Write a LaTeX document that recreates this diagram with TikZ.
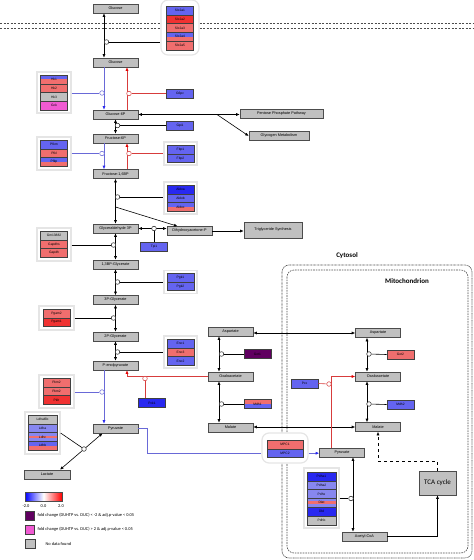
\documentclass[tikz,border=0pt]{standalone}
\usepackage{fontspec}
\setmainfont{Liberation Sans}
\newfontfamily\calib{Carlito}
\usetikzlibrary{arrows.meta,positioning}
\definecolor{cB}{RGB}{100,100,240}
\definecolor{cD}{RGB}{40,40,240}
\definecolor{cL}{RGB}{135,135,240}
\definecolor{cS}{RGB}{240,110,110}
\definecolor{cR}{RGB}{240,50,50}
\definecolor{cP}{RGB}{240,90,210}
\definecolor{cU}{RGB}{96,0,96}
\definecolor{cN}{RGB}{192,192,192}
\definecolor{lblue}{RGB}{105,105,215}
\definecolor{lred}{RGB}{215,60,60}
\tikzset{metab/.style={draw=black!70,fill=cN,minimum width=45pt,minimum height=9pt,inner sep=0pt,
		font=\fontsize{3.8}{4}\selectfont},
	gene/.style={draw=black!75,minimum width=27pt,minimum height=8.8pt,inner sep=0pt,
		font=\fontsize{3.3}{3.6}\selectfont},
	grp/.style={draw=black!10,line width=1.2pt,fill=white,inner sep=0pt},
	octo/.style={grp,rounded corners=7pt},
	split/.style 2 args={fill=#2,path picture={\fill[#1] (path picture bounding box.north west)
			rectangle (path picture bounding box.east);}},
	band/.style 2 args={fill=#1,path picture={\fill[#2] ([yshift=-3pt]path picture bounding box.north west)
			rectangle ([yshift=3pt]path picture bounding box.south east);}},
	gB/.style={fill=cB},gD/.style={fill=cD},gL/.style={fill=cL},gS/.style={fill=cS},
	gR/.style={fill=cR},gP/.style={fill=cP},gU/.style={fill=cU},gN/.style={fill=cN},
	gBS/.style={split={cB}{cS}},gSB/.style={split={cS}{cB}},gLS/.style={band={cL}{cS}},
	anc/.style={circle,draw=black!85,fill=white,minimum size=4.6pt,inner sep=0pt,line width=0.5pt},
	banc/.style={anc,draw=lblue},
	ranc/.style={anc,draw=lred},
	bln/.style={draw=lblue},
	rln/.style={draw=lred},
	bar/.style={-{Latex[length=3.5pt,width=3pt,color=cD]}},
	rar/.style={-{Latex[length=3.5pt,width=3pt,color=red!90!black]}},
	memb/.style={draw=black!70,line width=0.5pt,dash pattern=on 2pt off 1.5pt},
	cyto/.style={draw=black!70,line width=0.6pt,dash pattern=on 0.8pt off 0.6pt,rounded corners=7pt},
	mito/.style={draw=black!70,line width=0.6pt,dash pattern=on 1.6pt off 1pt,rounded corners=7pt},
	comp/.style={font=\calib\bfseries\fontsize{7}{8}\selectfont,inner sep=0pt},
	legtext/.style={font=\calib\fontsize{4.4}{5}\selectfont,inner sep=0pt,anchor=west}}

\begin{document}
\begin{tikzpicture}
	[x=1pt,y=-1pt,>={Latex[length=3.5pt,width=3pt]},line width=0.6pt]
	\useasboundingbox (0,0) rectangle (474,560);

	\draw[cyto] (282,265) rectangle (472,558);
	\draw[mito] (287,270) rectangle (468,553);
	\node[comp] (cytolbl) at (347,256) {Cytosol};
	\node[comp] (mitolbl) at (407,281) {Mitochondrion};
	\draw[memb] (0,23) -- (474,23);
	\draw[memb] (0,28) -- (474,28);

	\node[octo,minimum width=38pt,minimum height=55pt] (slcbox) at (180,27.5) {};
	\node[grp,minimum width=34pt,minimum height=41pt] (hkbox) at (54,92.5) {};
	\node[grp,minimum width=34pt,minimum height=33pt] (pfkbox) at (54,153.5) {};
	\node[grp,minimum width=33pt,minimum height=23pt] (fbpbox) at (180.5,153.5) {};
	\node[grp,minimum width=33pt,minimum height=32pt] (aldobox) at (180.5,198) {};
	\node[grp,minimum width=34pt,minimum height=33pt] (gapdhbox) at (54,244.5) {};
	\node[grp,minimum width=33pt,minimum height=23pt] (pgkbox) at (180.5,282) {};
	\node[grp,minimum width=35pt,minimum height=24pt] (pgambox) at (56.5,318) {};
	\node[grp,minimum width=33pt,minimum height=32pt] (enobox) at (180.5,352) {};
	\node[grp,minimum width=35pt,minimum height=33pt] (pkmbox) at (56.5,391.5) {};
	\node[grp,minimum width=35pt,minimum height=42pt] (ldhbox) at (42.5,433) {};
	\node[octo,minimum width=46pt,minimum height=30pt] (mpcbox) at (285,448) {};
	\node[grp,minimum width=35pt,minimum height=60pt] (pdhbox) at (321.5,498) {};

	\foreach \g/\c [count=\i] in {Slc2a1/gB,Slc2a2/gR,Slc2a3/gS,Slc2a4/gBS,Slc2a5/gS}
		\node[gene,\c] (slc\i) at (180,{1.6+8.8*\i}) {\g};
	\foreach \g/\c [count=\i] in {Hk1/gBS,Hk2/gS,Hk3/gN,Gck/gP}
		\node[gene,\c] (hk\i) at (54,{70.6+8.8*\i}) {\g};
	\foreach \g/\c [count=\i] in {Pfkm/gB,Pfkl/gS,Pfkp/gBS}
		\node[gene,\c] (pfk\i) at (54,{135.6+8.8*\i}) {\g};
	\foreach \g/\c [count=\i] in {Fbp1/gB,Fbp2/gB}
		\node[gene,\c] (fbp\i) at (180.5,{140.6+8.8*\i}) {\g};
	\foreach \g/\c [count=\i] in {Aldoa/gD,Aldob/gB,Aldoc/gBS}
		\node[gene,\c] (aldo\i) at (180.5,{180.6+8.8*\i}) {\g};
	\foreach \g/\c [count=\i] in {Gm13882/gN,Gapdhs/gS,Gapdh/gS}
		\node[gene,\c] (gapdh\i) at (54,{226.6+8.8*\i}) {\g};
	\foreach \g/\c [count=\i] in {Pgk1/gB,Pgk2/gB}
		\node[gene,\c] (pgk\i) at (180.5,{268.6+8.8*\i}) {\g};
	\foreach \g/\c [count=\i] in {Pgam2/gS,Pgam1/gR}
		\node[gene,\c] (pgam\i) at (56.5,{304.6+8.8*\i}) {\g};
	\foreach \g/\c [count=\i] in {Eno1/gB,Eno3/gS,Eno2/gB}
		\node[gene,\c] (eno\i) at (180.5,{334.6+8.8*\i}) {\g};
	\foreach \g/\c [count=\i] in {Pkm2/gS,Pkm2/gS,Pklr/gR}
		\node[gene,\c] (pkm\i) at (56.5,{373.6+8.8*\i}) {\g};
	\foreach \g/\c [count=\i] in {Ldhal6b/gN,Ldha/gL,Ldhc/gLS,Ldhb/gBS}
		\node[gene,\c,minimum width=29pt] (ldh\i) at (42.5,{410.6+8.8*\i}) {\g};
	\foreach \g/\c [count=\i] in {MPC1/gS,MPC2/gB}
		\node[gene,\c,minimum width=36pt] (mpc\i) at (285,{435.6+8.8*\i}) {\g};
	\foreach \g/\c [count=\i] in {Pdha1/gD,Pdha2/gL,Pdhx/gL,Dlat/gLS,Dld/gD,Pdhb/gN}
		\node[gene,\c,minimum width=29pt] (pdh\i) at (321.5,{467.6+8.8*\i}) {\g};
	\node[gene,gB] (g6pc) at (180,93.5) {G6pc};
	\node[gene,gB] (gpi1) at (180,125.5) {Gpi1};
	\node[gene,gB] (tpi1) at (154,246.5) {Tpi1};
	\node[gene,gD] (pck1) at (152,403) {Pck1};
	\node[gene,gU] (got1) at (257.5,354) {Got1};
	\node[gene,gSB] (mdh1) at (257.5,404) {Mdh1};
	\node[gene,gB] (pcx) at (304.5,383.5) {Pcx};
	\node[gene,gS] (got2) at (400.5,354.5) {Got2};
	\node[gene,gB] (mdh2) at (400.5,404.5) {Mdh2};

	\node[metab] (glc0) at (115.5,8.5) {Glucose};
	\node[metab] (glc) at (115.5,62.5) {Glucose};
	\node[metab] (g6p) at (115.5,114.5) {Glucose-6P};
	\node[metab] (f6p) at (115.5,138.5) {Fructose-6P};
	\node[metab] (fbp) at (115.5,174) {Fructose-1,6BP};
	\node[metab] (gap) at (115.5,228.5) {Glyceraldehyde 3P};
	\node[metab] (dhap) at (189.5,231) {Dihydroxyacetone-P};
	\node[metab] (bpg) at (115.5,264.5) {1,3BP-Glycerate};
	\node[metab] (pg3) at (115.5,300) {3P-Glycerate};
	\node[metab] (pg2) at (115.5,336.5) {2P-Glycerate};
	\node[metab] (pep) at (115.5,365.5) {P-enolpyruvate};
	\node[metab] (pyr) at (115.5,428.5) {Pyruvate};
	\node[metab,minimum width=46pt] (lac) at (47,474.5) {Lactate};
	\node[metab] (asp) at (230.5,331.5) {Aspartate};
	\node[metab] (oaa) at (230.5,376.5) {Oxaloacetate};
	\node[metab] (mal) at (230.5,427.5) {Malate};
	\node[metab] (aspm) at (378,333) {Aspartate};
	\node[metab] (oaam) at (378,376.5) {Oxaloacetate};
	\node[metab] (malm) at (378,427) {Malate};
	\node[metab] (pyrm) at (342,452.5) {Pyruvate};
	\node[metab] (acoa) at (364.5,536.5) {Acetyl-CoA};
	\node[metab,minimum width=83pt] (ppp) at (281.5,113.5) {Pentose Phosphate Pathway};
	\node[metab,minimum width=60pt] (glyco) at (279,136) {Glycogen Metabolism};
	\node[metab,minimum width=58pt,minimum height=16pt] (tg) at (273,230) {Triglyceride Synthesis};
	\node[metab,minimum width=37pt,minimum height=24pt,font=\calib\fontsize{7}{8}\selectfont] (tca) at (437.5,483) {TCA cycle};

	\draw[<->] ([xshift=-11.5pt]glc0.south) -- ([xshift=-11.5pt]glc.north);
	\node[anc] (a1) at (106.5,42) {};
	\draw (a1) -- (a1 -| slcbox.west);
	\draw[bln,bar] ([xshift=-11.5pt]glc.south) -- ([xshift=-11.5pt]g6p.north);
	\node[banc] (a2) at (102,93) {};
	\draw[bln] (hkbox.east |- a2) -- (a2);
	\draw[rln,rar] ([xshift=11.5pt]g6p.north) -- ([xshift=11.5pt]glc.south);
	\node[ranc] (a3) at (129,93.5) {};
	\draw[rln] (a3) -- (g6pc.west);
	\draw[<->] (g6p.east) -- (g6p.east -| ppp.west);
	\coordinate (br2) at (217,114.5);
	\draw[->] (br2) -- (glyco.west);
	\draw[<->] (g6p) -- (f6p);
	\node[anc] (a4) at (117.5,125.5) {};
	\draw (a4) -- (gpi1.west);
	\draw[bln,bar] ([xshift=-11.5pt]f6p.south) -- ([xshift=-11.5pt]fbp.north);
	\node[banc] (a5) at (102,153.5) {};
	\draw[bln] (pfkbox.east |- a5) -- (a5);
	\draw[rln,rar] ([xshift=11.5pt]fbp.north) -- ([xshift=11.5pt]f6p.south);
	\node[ranc] (a6) at (129,153.5) {};
	\draw[rln] (a6) -- (a6 -| fbpbox.west);
	\draw[<->] (fbp) -- (gap);
	\node[anc] (a7) at (117.5,197) {};
	\draw (a7) -- (a7 -| aldobox.west);
	\coordinate (br1) at (115.5,207);
	\draw[->] (br1) -- ([xshift=-12pt]dhap.north);
	\draw[<->] (gap.east) -- (gap.east -| dhap.west);
	\node[anc] (a9) at (154,228.5) {};
	\draw (a9) -- (tpi1.north);
	\draw[->] (dhap.east) -- (dhap.east -| tg.west);
	\draw[<->] (gap) -- (bpg);
	\node[anc] (a11) at (113.5,245) {};
	\draw (gapdhbox.east |- a11) -- (a11);
	\draw[<->] (bpg) -- (pg3);
	\node[anc] (a12) at (117.5,282) {};
	\draw (a12) -- (a12 -| pgkbox.west);
	\draw[<->] (pg3) -- (pg2);
	\node[anc] (a13) at (113.5,318) {};
	\draw (pgambox.east |- a13) -- (a13);
	\draw[<->] (pg2) -- (pep);
	\node[anc] (a14) at (117.5,352) {};
	\draw (a14) -- (a14 -| enobox.west);
	\draw[bln,bar] ([xshift=-11.5pt]pep.south) -- ([xshift=-11.5pt]pyr.north);
	\node[banc] (a15) at (102,392) {};
	\draw[bln] (pkmbox.east |- a15) -- (a15);
	\draw[rln,rar] (oaa.west) -| ([xshift=11.5pt]pep.south);
	\node[ranc] (a16) at (145,378.5) {};
	\draw[rln] (a16) -- (a16 |- pck1.north);
	\draw[<->] ([xshift=-13pt]pyr.south) -- ([xshift=13pt]lac.north);
	\node[anc] (a17) at (84,449) {};
	\draw (ldhbox.east) -- (a17);
	\draw[bln] (pyr.east) -- ++(9,0) |- (mpcbox.west |- mpc2);
	\draw[bln,bar] (mpcbox.east |- mpc2) -- (pyrm.west |- mpc2);

	\draw[<->] (aspm.west) -- (aspm.west -| asp.east);
	\draw[<->] (malm.west) -- (malm.west -| mal.east);
	\draw[<->] ([xshift=-11.5pt]asp.south) -- ([xshift=-11.5pt]oaa.north);
	\node[anc] (a20) at (221.5,354) {};
	\draw (a20) -- (got1.west);
	\draw[<->] ([xshift=-11.5pt]oaa.south) -- ([xshift=-11.5pt]mal.north);
	\node[anc] (a21) at (221.5,404) {};
	\draw (a21) -- (mdh1.west);
	\draw[<->] ([xshift=-11pt]aspm.south) -- ([xshift=-11pt]oaam.north);
	\node[anc] (a23) at (369,354) {};
	\draw (a23) -- (got2.west);
	\draw[<->] ([xshift=-11pt]oaam.south) -- ([xshift=-11pt]malm.north);
	\node[anc] (a24) at (369,404) {};
	\draw (a24) -- (mdh2.west);
	\draw[rln,rar] ([xshift=-11pt]pyrm.north) |- (oaam.west);
	\node[ranc] (a25) at (329,384) {};
	\draw[rln] (pcx.east) -- (a25);
	\draw[<->] ([xshift=11pt]pyrm.south) -- ([xshift=11pt]pyrm.south |- acoa.north);
	\node[anc] (a26) at (351,498.5) {};
	\draw (pdhbox.east |- a26) -- (a26);
	\draw[->] (acoa.east) -| (tca.south);
	\draw[dashed,->] (tca.north) -- ++(0,-9) -| (malm.south);

	\node[draw=black!70,minimum width=37pt,minimum height=9pt,inner sep=0pt,
		left color=blue,right color=red,middle color=white] (lgbar) at (43.5,496.5) {};
	\node[legtext,anchor=center] (lgmin) at (26,506) {-2.0};
	\node[legtext,anchor=center] (lgmid) at (43.5,506) {0.0};
	\node[legtext,anchor=center] (lgmax) at (61,506) {2.0};
	\node[gene,fill=cU,minimum width=9pt,minimum height=9pt] (lg1) at (29.5,515.5) {};
	\node[legtext,right=3pt of lg1] (lgt1) {fold change (DUHTP vs. DUC) < -2 \& adj.p-value < 0.05};
	\node[gene,fill=cP,minimum width=9pt,minimum height=9pt] (lg2) at (29.5,529.5) {};
	\node[legtext,right=3pt of lg2] (lgt2) {fold change (DUHTP vs. DUC) > 2 \& adj.p-value < 0.05};
	\node[gene,fill=cN,minimum width=10pt,minimum height=9pt] (lg3) at (30,543.5) {};
	\node[legtext,right=10pt of lg3] (lgt3) {No data found};
\end{tikzpicture}
\end{document}
